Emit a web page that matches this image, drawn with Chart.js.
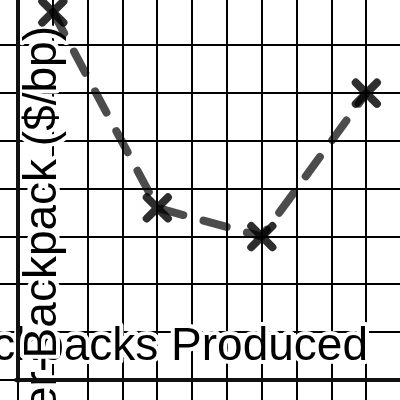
<!DOCTYPE html>
<html><head><meta charset="utf-8">
<script src="https://cdn.jsdelivr.net/npm/chart.js@4"></script>
<style>
html,body{margin:0;padding:0;width:400px;height:400px;overflow:hidden;background:#fff;}
#wrap{position:absolute;left:-40px;top:-40px;width:499px;height:480px;}
</style></head><body>
<div id="wrap"><canvas id="c"></canvas></div>
<script>
const backpacksProduced = [100, 400, 700, 1000];
const costPerBackpack = [7.7, 3.6, 3.0, 6.0];
const xAxisTitle = 'Number of Backpacks Produced';
const yAxisTitle = 'Cost Per Backpack ($/bp)';
const xMin = 0, xMax = 1200, xStep = 100;
const yMin = 0, yMax = 8, yStep = 1;

const points = backpacksProduced.map((x, i) => ({x: x, y: costPerBackpack[i]}));

const axisTitles = {
  id: 'axisTitles',
  beforeDatasetsDraw(chart) {
    const {ctx, chartArea: a} = chart;
    ctx.save();
    ctx.font = '46px "Liberation Sans", Arial, sans-serif';
    ctx.lineJoin = 'round';
    ctx.lineWidth = 8;
    ctx.strokeStyle = '#fff';
    ctx.fillStyle = '#000';
    ctx.textAlign = 'right';
    ctx.textBaseline = 'alphabetic';
    const xx = a.left + 350, xy = a.bottom - 20;
    ctx.strokeText(xAxisTitle, xx, xy);
    ctx.fillText(xAxisTitle, xx, xy);
    ctx.translate(a.left + 38, a.top + 28.4);
    ctx.rotate(-Math.PI / 2);
    ctx.strokeText(yAxisTitle, 0, 0);
    ctx.fillText(yAxisTitle, 0, 0);
    ctx.restore();
    ctx.lineCap = 'round';
    ctx.lineJoin = 'round';
  }
};

new Chart(document.getElementById('c'), {
  type: 'line',
  data: {
    datasets: [{
      data: points,
      borderColor: 'rgba(0,0,0,0.7)',
      borderWidth: 8,
      borderDash: [24, 21],
      borderCapStyle: 'round',
      borderJoinStyle: 'round',
      tension: 0,
      fill: false,
      clip: false,
      pointStyle: 'crossRot',
      pointRadius: 15,
      pointBorderWidth: 8,
      pointBorderColor: 'rgba(0,0,0,0.82)',
      pointBackgroundColor: 'rgba(0,0,0,0.82)'
    }]
  },
  options: {
    responsive: true,
    maintainAspectRatio: false,
    animation: false,
    layout: {padding: {left: 28, top: 37.6, right: 4.4, bottom: 30}},
    plugins: {legend: {display: false}, tooltip: {enabled: false}, title: {display: false}},
    scales: {
      x: {
        type: 'linear', min: xMin, max: xMax,
        ticks: {display: false, stepSize: xStep},
        grid: {color: '#000', lineWidth: 2, tickLength: 25, drawTicks: true},
        border: {display: true, color: '#111', width: 4, z: 1},
        afterFit: s => { s.height = 30; }
      },
      y: {
        type: 'linear', min: yMin, max: yMax,
        ticks: {display: false, stepSize: yStep},
        grid: {color: '#000', lineWidth: 2, tickLength: 25, drawTicks: true},
        border: {display: true, color: '#111', width: 4, z: 1},
        afterFit: s => { s.width = 30; }
      }
    }
  },
  plugins: [axisTitles]
});
</script>
</body></html>
